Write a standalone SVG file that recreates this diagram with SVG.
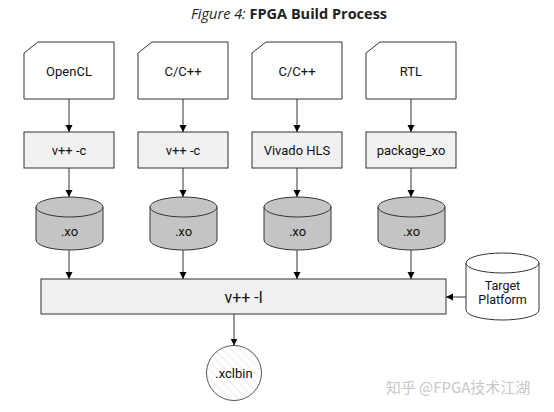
<svg xmlns="http://www.w3.org/2000/svg" width="554" height="412" viewBox="0 0 554 412">
<defs>
<marker id="ah" markerWidth="8" markerHeight="8" refX="7" refY="4" orient="auto" markerUnits="userSpaceOnUse">
<path d="M0,0.5 L7,4 L0,7.5 Z" fill="#000"/>
</marker>
<pattern id="hatch" width="6" height="6" patternUnits="userSpaceOnUse" patternTransform="rotate(-45)">
<rect width="6" height="6" fill="#fff"/>
<line x1="0" y1="0" x2="0" y2="6" stroke="#ececec" stroke-width="2"/>
</pattern>
<style>
.doc{fill:#fff;stroke:#333;stroke-width:1}
.proc{fill:#f1f1f1;stroke:#333;stroke-width:1}
.cyl{fill:#c4c4c4;stroke:#333;stroke-width:1}
.cylw{fill:#fff;stroke:#333;stroke-width:1}
.t{font-family:Roboto,"Liberation Sans",sans-serif;font-size:13px;fill:#111;text-anchor:middle}
.big{font-size:16px}
.sm{font-size:12.5px}
.c{stroke:#333;stroke-width:1;fill:none;marker-end:url(#ah)}
</style>
</defs>
<rect width="554" height="412" fill="#fff"/>
<text x="289" y="19" text-anchor="middle" font-family="'Open Sans','Noto Sans',sans-serif" font-size="14.5" fill="#222"><tspan font-style="italic">Figure 4:</tspan> <tspan font-weight="bold">FPGA Build Process</tspan></text>

<g id="src1"><path class="doc" d="M38,42 H114 V99 H24 V53 Z"/><text class="t" x="69" y="76">OpenCL</text></g>
<g id="src2"><path class="doc" d="M152,42 H228 V99 H138 V53 Z"/><text class="t" x="183" y="76">C/C++</text></g>
<g id="src3"><path class="doc" d="M266,42 H342 V99 H252 V53 Z"/><text class="t" x="297" y="76">C/C++</text></g>
<g id="src4"><path class="doc" d="M380,42 H456 V99 H366 V53 Z"/><text class="t" x="411" y="76">RTL</text></g>

<g id="proc1"><rect class="proc" x="24" y="132" width="90" height="36"/><text class="t" x="69" y="155">v++ -c</text></g>
<g id="proc2"><rect class="proc" x="138" y="132" width="90" height="36"/><text class="t" x="183" y="155">v++ -c</text></g>
<g id="proc3"><rect class="proc" x="252" y="132" width="90" height="36"/><text class="t" x="297" y="155">Vivado HLS</text></g>
<g id="proc4"><rect class="proc" x="366" y="132" width="90" height="36"/><text class="t" x="411" y="155">package_xo</text></g>

<g id="xo1"><path class="cyl" d="M36,207 V240 A33.5,10 0 0 0 103,240 V207 A33.5,10 0 0 0 36,207 Z"/><path class="cyl" d="M36,207 A33.5,10 0 0 0 103,207" fill="none"/><text class="t" x="69.5" y="236">.xo</text></g>
<g id="xo2"><path class="cyl" d="M150,207 V240 A33.5,10 0 0 0 217,240 V207 A33.5,10 0 0 0 150,207 Z"/><path class="cyl" d="M150,207 A33.5,10 0 0 0 217,207" fill="none"/><text class="t" x="183.5" y="236">.xo</text></g>
<g id="xo3"><path class="cyl" d="M264,207 V240 A33.5,10 0 0 0 331,240 V207 A33.5,10 0 0 0 264,207 Z"/><path class="cyl" d="M264,207 A33.5,10 0 0 0 331,207" fill="none"/><text class="t" x="297.5" y="236">.xo</text></g>
<g id="xo4"><path class="cyl" d="M378,207 V240 A33.5,10 0 0 0 445,240 V207 A33.5,10 0 0 0 378,207 Z"/><path class="cyl" d="M378,207 A33.5,10 0 0 0 445,207" fill="none"/><text class="t" x="411.5" y="236">.xo</text></g>

<g id="link"><rect class="proc" x="41" y="279" width="405" height="35"/><text class="t big" x="243.5" y="302.5">v++ -l</text></g>

<g id="platform"><path class="cylw" d="M466,263 V310 A36.5,10 0 0 0 539,310 V263 A36.5,10 0 0 0 466,263 Z"/><path class="cylw" d="M466,263 A36.5,10 0 0 0 539,263" fill="none"/><text class="t sm" x="502.5" y="290">Target</text><text class="t sm" x="502.5" y="304">Platform</text></g>

<g id="xclbin"><circle cx="234" cy="373" r="27.5" fill="url(#hatch)" stroke="#555" stroke-width="1"/><text class="t" x="234" y="378">.xclbin</text></g>

<g id="connectors">
<line class="c" x1="69" y1="99" x2="69" y2="132"/>
<line class="c" x1="183" y1="99" x2="183" y2="132"/>
<line class="c" x1="297" y1="99" x2="297" y2="132"/>
<line class="c" x1="411" y1="99" x2="411" y2="132"/>
<line class="c" x1="69" y1="168" x2="69" y2="197"/>
<line class="c" x1="183" y1="168" x2="183" y2="197"/>
<line class="c" x1="297" y1="168" x2="297" y2="197"/>
<line class="c" x1="411" y1="168" x2="411" y2="197"/>
<line class="c" x1="69" y1="250" x2="69" y2="279"/>
<line class="c" x1="183" y1="250" x2="183" y2="279"/>
<line class="c" x1="297" y1="250" x2="297" y2="279"/>
<line class="c" x1="411" y1="250" x2="411" y2="279"/>
<line class="c" x1="466" y1="297" x2="446" y2="297"/>
<line class="c" x1="234" y1="314" x2="234" y2="345.5"/>
</g>
<text x="458" y="393" text-anchor="middle" font-family="'Noto Sans CJK SC','Noto Sans',sans-serif" font-size="15" fill="#c8c8c8">知乎 @FPGA技术江湖</text>
</svg>
